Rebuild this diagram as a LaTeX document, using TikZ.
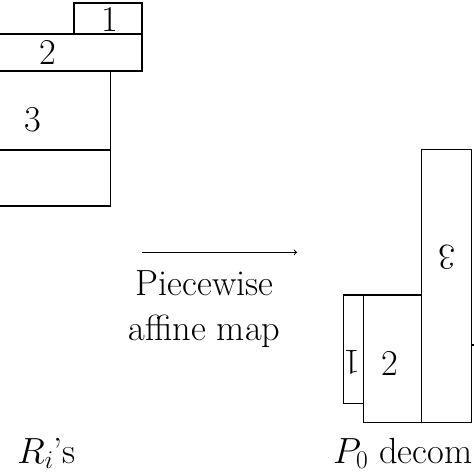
\documentclass[tikz,border=0pt]{standalone}
\usepackage{fix-cm}
\usepackage{fontspec}
\setmainfont{Latin Modern Roman}
\begin{document}
\begin{tikzpicture}[x=1pt,y=-1pt,
  box/.style={draw, line width=1.4pt},
  lab/.style={font=\fontsize{36.4}{44}\selectfont, inner sep=0pt},
  maparrow/.style={->, line width=1.1pt}]
\useasboundingbox (0,0) rectangle (474,474);
\clip (0,0) rectangle (474,474);
% left decomposition
\draw[box] (74,3) rectangle (142,34);
\draw[box] (-20,34) rectangle (142,71);
\draw[box] (-20,71) rectangle (110.5,150);
\draw[box] (-20,150) rectangle (110.5,206);
\node[lab] (l1) at (110,19) {1};
\node[lab] (l2) at (48,52) {2};
\node[lab] (l3) at (33,120) {3};
% right decomposition
\draw[box] (421.7,149.7) rectangle (471.7,422.7);
\draw[box] (363.3,295) rectangle (421.7,422.7);
\draw[box] (343.3,295) rectangle (363.3,403.3);
\draw[box] (471.7,345) -- (490,345);
\node[lab, rotate=180] (r3) at (447,257) {3};
\node[lab] (r2) at (390,363) {2};
\node[lab, rotate=180] (r1) at (352.5,363) {1};
% arrow
\coordinate (a1) at (141.7,252.3);
\coordinate (a2) at (297,252.3);
\draw[maparrow] (a1) -- (a2);
\node[lab, anchor=base] (t1) at (204.5,295) {Piecewise};
\node[lab, anchor=base] (t2) at (204.5,340) {affine map};
% captions
\node[lab, anchor=base east] (c1) at (76,463) {$R_i$'s};
\node[lab, anchor=base west] (c2) at (333,463) {$P_0$ decom};
\end{tikzpicture}
\end{document}
